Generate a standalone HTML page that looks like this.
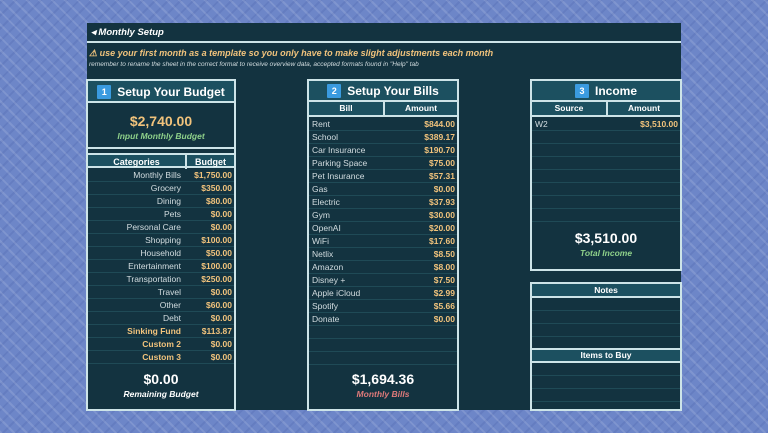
<!DOCTYPE html>
<html><head><meta charset="utf-8"><style>
*{margin:0;padding:0;box-sizing:border-box}
body{width:768px;height:433px;overflow:hidden;position:relative;font-family:"Liberation Sans",sans-serif;
background:#6d86c8;background-image:repeating-linear-gradient(45deg,rgba(255,255,255,.12) 0 2px,transparent 2px 9px),repeating-linear-gradient(-45deg,rgba(40,60,140,.12) 0 2px,transparent 2px 9px);}
.panel{position:absolute;left:87px;top:23px;width:594px;height:387px;background:#133340}
.a{position:absolute}
.box{position:absolute;border:2px solid #cde4e8;background:#133340}
.hd{position:absolute;left:0;right:0;background:#1c5060;color:#fff;font-weight:bold;text-align:center}
.row{position:absolute;left:0;right:0;height:13px;border-bottom:1px solid #1f4a56;font-size:8.5px;line-height:13px}
.g{color:#f1c37c;font-weight:bold}
.w{color:#d3dde0}
.num{display:inline-block;width:14px;height:14px;background:#3a9be0;color:#fff;font-size:9px;line-height:14px;text-align:center;border-radius:1px;margin-right:6px;vertical-align:1px}
.big{position:absolute;left:0;right:0;text-align:center;color:#fff;font-weight:bold;font-size:14px}
.cap{position:absolute;left:0;right:0;text-align:center;font-weight:bold;font-style:italic;font-size:8.5px}
</style></head><body>
<div class="panel">
 <div class="a" style="left:0;top:0;width:594px;height:20px;border-bottom:2px solid #cde4e8;color:#fff;font-weight:bold;font-style:italic;font-size:9.5px;line-height:20px;padding-left:4px">◂ Monthly Setup</div>
 <div class="a" style="left:2px;top:25px;color:#f1c37c;font-weight:bold;font-style:italic;font-size:9px">⚠ use your first month as a template so you only have to make slight adjustments each month</div>
 <div class="a" style="left:2px;top:38px;color:#d3dde0;font-style:italic;font-size:6.5px">remember to rename the sheet in the correct format to receive overview data, accepted formats found in "Help" tab</div>
</div>

<!-- Budget -->
<div class="box" style="left:86px;top:79px;width:150px;height:332px">
 <div class="hd" style="top:0;height:22px;font-size:12px;line-height:22px;border-bottom:2px solid #cde4e8"><span class="num">1</span>Setup Your Budget</div>
 <div class="big" style="top:32px;color:#f1c37c">$2,740.00</div>
 <div class="cap" style="top:50px;color:#8fd18a">Input Monthly Budget</div>
 <div class="a" style="left:0;right:0;top:66px;border-top:2px solid #cde4e8"></div>
 <div class="hd" style="top:72px;height:15px;font-size:9px;line-height:14px;border-top:2px solid #cde4e8;border-bottom:2px solid #cde4e8"><span style="position:absolute;left:0;width:97px">Categories</span><span style="position:absolute;left:97px;right:0;border-left:2px solid #cde4e8">Budget</span></div>
 <div id="brows"></div>
 <div class="big" style="top:290px">$0.00</div>
 <div class="cap" style="top:308px;color:#fff">Remaining Budget</div>
</div>

<!-- Bills -->
<div class="box" style="left:307px;top:79px;width:152px;height:332px">
 <div class="hd" style="top:0;height:21px;font-size:12px;line-height:21px;border-bottom:2px solid #cde4e8"><span class="num">2</span>Setup Your Bills</div>
 <div class="hd" style="top:21px;height:15px;font-size:8.5px;line-height:13px;border-bottom:2px solid #cde4e8"><span style="position:absolute;left:0;width:74px">Bill</span><span style="position:absolute;left:74px;right:0;border-left:2px solid #cde4e8">Amount</span></div>
 <div id="lrows"></div>
 <div class="big" style="top:290px">$1,694.36</div>
 <div class="cap" style="top:308px;color:#e07a7a">Monthly Bills</div>
</div>

<!-- Income -->
<div class="box" style="left:530px;top:79px;width:152px;height:192px">
 <div class="hd" style="top:0;height:21px;font-size:12px;line-height:21px;border-bottom:2px solid #cde4e8"><span class="num">3</span>Income</div>
 <div class="hd" style="top:21px;height:15px;font-size:8.5px;line-height:13px;border-bottom:2px solid #cde4e8"><span style="position:absolute;left:0;width:74px">Source</span><span style="position:absolute;left:74px;right:0;border-left:2px solid #cde4e8">Amount</span></div>
 <div class="row" style="top:37px"><span class="w a" style="left:3px">W2</span><span class="g a" style="right:2px">$3,510.00</span></div>
 <div class="row" style="top:50px"></div><div class="row" style="top:63px"></div><div class="row" style="top:76px"></div><div class="row" style="top:89px"></div><div class="row" style="top:102px"></div><div class="row" style="top:115px"></div><div class="row" style="top:128px"></div>
 <div class="big" style="top:149px">$3,510.00</div>
 <div class="cap" style="top:167px;color:#8fd18a">Total Income</div>
</div>

<!-- Notes -->
<div class="box" style="left:530px;top:282px;width:152px;height:129px">
 <div class="hd" style="top:0;height:14px;font-size:8.5px;line-height:12px;border-bottom:2px solid #cde4e8">Notes</div>
 <div class="row" style="top:14px"></div><div class="row" style="top:27px"></div><div class="row" style="top:40px"></div><div class="row" style="top:53px;border:0"></div>
 <div class="hd" style="top:64px;height:15px;font-size:8.5px;line-height:11px;border-top:2px solid #cde4e8;border-bottom:2px solid #cde4e8">Items to Buy</div>
 <div class="row" style="top:79px"></div><div class="row" style="top:92px"></div><div class="row" style="top:105px"></div>
</div>

<script>
var b=[["Monthly Bills","$1,750.00"],["Grocery","$350.00"],["Dining","$80.00"],["Pets","$0.00"],["Personal Care","$0.00"],["Shopping","$100.00"],["Household","$50.00"],["Entertainment","$100.00"],["Transportation","$250.00"],["Travel","$0.00"],["Other","$60.00"],["Debt","$0.00"],["Sinking Fund","$113.87",1],["Custom 2","$0.00",1],["Custom 3","$0.00",1]];
var h="";b.forEach(function(r,i){h+='<div class="row" style="top:'+(88+i*13)+'px"><span class="a '+(r[2]?'g':'w')+'" style="right:53px">'+r[0]+'</span><span class="a g" style="right:2px">'+r[1]+'</span></div>';});
document.getElementById("brows").innerHTML=h;
var l=[["Rent","$844.00"],["School","$389.17"],["Car Insurance","$190.70"],["Parking Space","$75.00"],["Pet Insurance","$57.31"],["Gas","$0.00"],["Electric","$37.93"],["Gym","$30.00"],["OpenAI","$20.00"],["WiFi","$17.60"],["Netlix","$8.50"],["Amazon","$8.00"],["Disney +","$7.50"],["Apple iCloud","$2.99"],["Spotify","$5.66"],["Donate","$0.00"],["",""],["",""],["",""]];
h="";l.forEach(function(r,i){h+='<div class="row" style="top:'+(37+i*13)+'px"><span class="a w" style="left:3px">'+r[0]+'</span><span class="a g" style="right:2px">'+r[1]+'</span></div>';});
document.getElementById("lrows").innerHTML=h;
</script>
</body></html>
